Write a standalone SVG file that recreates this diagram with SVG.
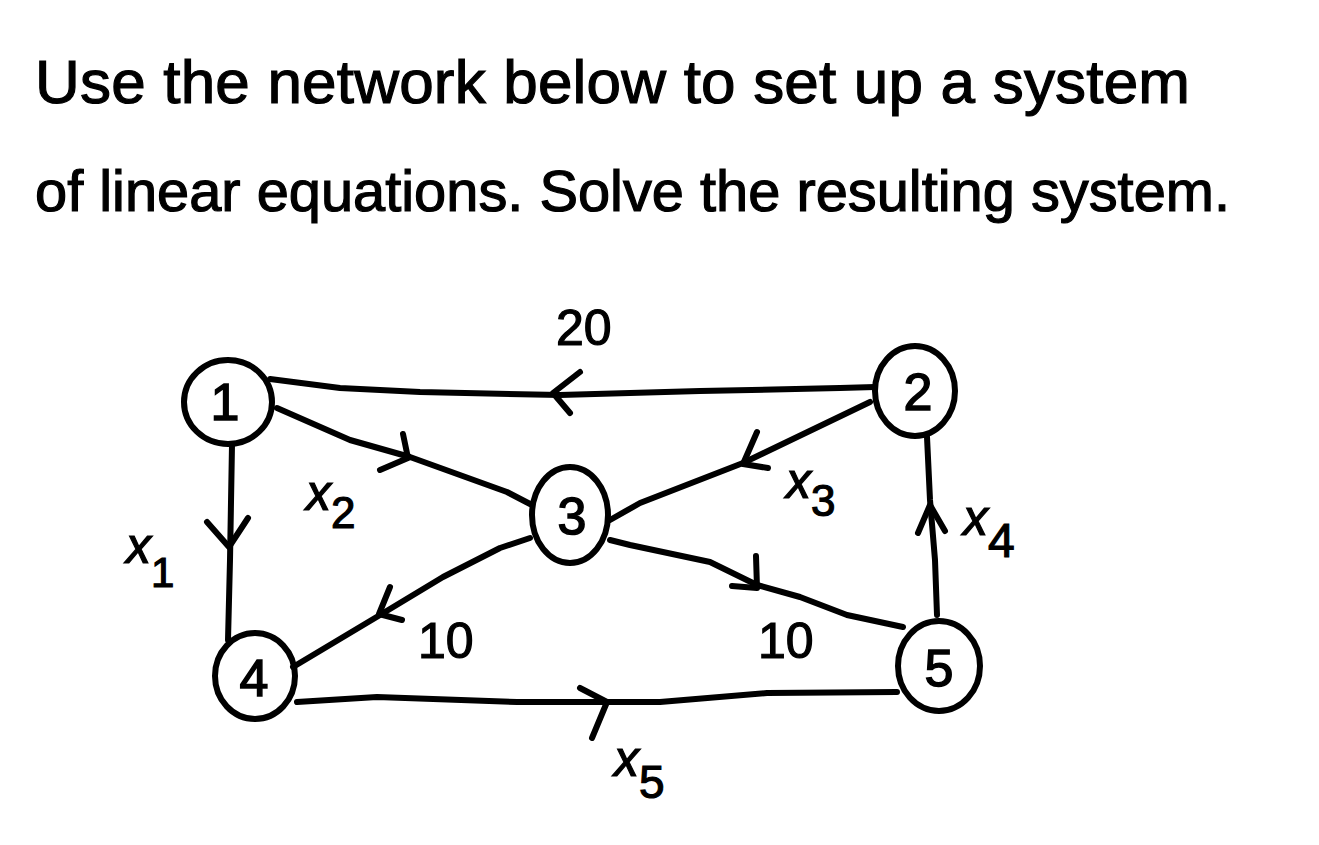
<svg xmlns="http://www.w3.org/2000/svg" width="1319" height="845" viewBox="0 0 1319 845">
<style>
.bg{fill:#fff}
.node ellipse{fill:none;stroke:#000;stroke-width:6}
.node text{font-family:"Liberation Sans",sans-serif;font-size:52px;fill:#000;stroke:#000;stroke-width:1.5;text-anchor:middle}
.edge{fill:none;stroke:#000;stroke-width:6;stroke-linecap:round;stroke-linejoin:round}
.lbl{font-family:"Liberation Sans",sans-serif;font-size:50px;fill:#000;stroke:#000;stroke-width:1.2}
.var{font-style:italic}
.title{font-family:"Liberation Sans",sans-serif;fill:#000;stroke:#000;stroke-width:1.2}
</style>
<rect class="bg" x="0" y="0" width="1319" height="845"/>
<g id="title">
<text class="title" x="35" y="103" font-size="62" textLength="1155" lengthAdjust="spacing">Use the network below to set up a system</text>
<text class="title" x="35" y="211" font-size="58" textLength="1195" lengthAdjust="spacingAndGlyphs">of linear equations. Solve the resulting system.</text>
</g>
<g id="connectors">
<path class="edge" d="M875,387 L840,388 L700,391 L560,395 L420,392 L340,388 L270,379"/>
<path class="edge" d="M580,372 L553,393 L570,413"/>
<path class="edge" d="M277,408 L350,440 L410,457 L507,492 L532,505"/>
<path class="edge" d="M403,434 L408,458 L380,470"/>
<path class="edge" d="M870,402 L743,463 L640,503 L610,520"/>
<path class="edge" d="M757,432 L743,464 L768,468"/>
<path class="edge" d="M232,445 L230,560 L228,640"/>
<path class="edge" d="M207,522 L229,547 L248,518"/>
<path class="edge" d="M530,538 L500,548 L443,577 L380,615 L293,667"/>
<path class="edge" d="M390,587 L379,614 L402,620"/>
<path class="edge" d="M610,540 L630,545 L710,562 L757,585 L800,597 L847,615 L903,627"/>
<path class="edge" d="M756,556 L757,588 L732,586"/>
<path class="edge" d="M937,615 L935,560 L930,500 L927,437"/>
<path class="edge" d="M918,533 L930,505 L945,531"/>
<path class="edge" d="M297,702 L377,697 L517,702 L660,702 L767,693 L897,692"/>
<path class="edge" d="M580,688 L607,702 L592,738"/>
</g>
<g id="node1" class="node"><ellipse cx="228" cy="402" rx="44" ry="42"/><text x="225" y="420">1</text></g>
<g id="node2" class="node"><ellipse cx="915" cy="391" rx="40" ry="45"/><text x="918" y="410">2</text></g>
<g id="node3" class="node"><ellipse cx="570" cy="515" rx="38" ry="48"/><text x="572" y="534">3</text></g>
<g id="node4" class="node"><ellipse cx="255" cy="676" rx="40" ry="43"/><text x="254" y="696">4</text></g>
<g id="node5" class="node"><ellipse cx="939" cy="666" rx="41" ry="45"/><text x="939" y="686">5</text></g>
<g id="labels">
<text class="lbl" x="556" y="345">20</text>
<text class="lbl" x="126" y="563"><tspan class="var">x</tspan><tspan font-size="42" dy="24">1</tspan></text>
<text class="lbl" x="306" y="510"><tspan class="var">x</tspan><tspan font-size="44" dy="18">2</tspan></text>
<text class="lbl" x="786" y="498"><tspan class="var">x</tspan><tspan font-size="44" dy="18">3</tspan></text>
<text class="lbl" x="963" y="535"><tspan class="var">x</tspan><tspan font-size="48" dy="22">4</tspan></text>
<text class="lbl" x="418" y="658">10</text>
<text class="lbl" x="758" y="658">10</text>
<text class="lbl" x="614" y="776"><tspan class="var">x</tspan><tspan font-size="46" dy="22">5</tspan></text>
</g>
</svg>
